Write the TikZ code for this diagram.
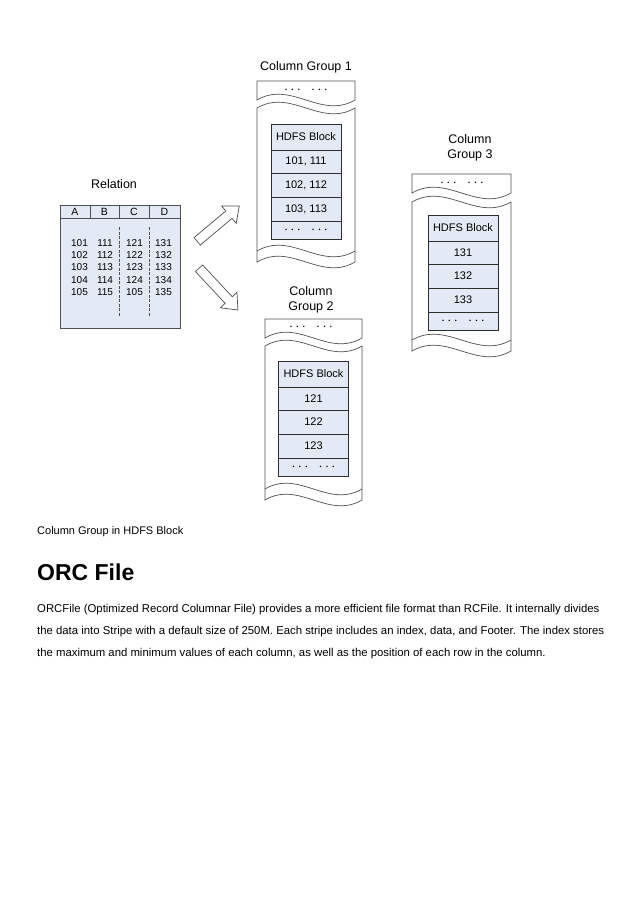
\documentclass[tikz,border=0pt]{standalone}
\usepackage{fontspec}
\setmainfont{Liberation Sans}
\usetikzlibrary{shapes.arrows,positioning}
\definecolor{clrFill}{RGB}{228,234,245}
\definecolor{clrLine}{RGB}{80,80,80}
\definecolor{clrDark}{RGB}{45,45,45}

% torn column-group strip: L, R, top, wave1, wave2, inner wave, bottom wave
\newcommand{\colgroup}[7]{%
  \draw[grpline,fill=white] (#1,#3) -- (#2,#3) -- (#2,#4)
    .. controls ({#1+0.65*(#2-#1)},{#4+20}) and ({#1+0.35*(#2-#1)},{#4-20}) .. (#1,#4) -- cycle;
  \draw[grpline,fill=white] (#1,#5)
    .. controls ({#1+0.35*(#2-#1)},{#5-20}) and ({#1+0.65*(#2-#1)},{#5+20}) .. (#2,#5)
    -- (#2,#7)
    .. controls ({#1+0.65*(#2-#1)},{#7+20}) and ({#1+0.35*(#2-#1)},{#7-20}) .. (#1,#7) -- cycle;
  \draw[grpline] (#1,#6)
    .. controls ({#1+0.35*(#2-#1)},{#6-20}) and ({#1+0.65*(#2-#1)},{#6+20}) .. (#2,#6);
}
\newcommand{\dotsrow}{{\fontsize{14}{14}\selectfont$\cdots\;\;\cdots$}}

\begin{document}
\begin{tikzpicture}[x=1pt,y=-1pt,
  grpline/.style={draw=clrLine,line width=0.7pt},
  blkrow/.style={draw=clrDark,fill=clrFill,line width=0.7pt,minimum width=70pt,
    inner sep=0pt,font=\fontsize{11}{13}\selectfont},
  ttl/.style={align=center,font=\fontsize{12.5}{15}\selectfont},
  numcol/.style={align=center,inner sep=0pt,font=\fontsize{10}{12.2}\selectfont},
  hdcell/.style={draw=clrLine,fill=clrFill,line width=0.7pt,minimum height=13pt,
    inner sep=0pt,font=\fontsize{10.5}{12}\selectfont},
  blockarrow/.style={single arrow,draw=clrLine,fill=white,line width=0.7pt,
    inner sep=4.5pt,single arrow head extend=6.5pt,single arrow tip angle=80}]
  \useasboundingbox (0,0) rectangle (638,903);
  \def\xA{306} \def\xB{313.5} \def\xC{463}
  \def\tA{124} \def\tB{361} \def\tC{215}

  % --- relation ---
  \node[ttl] (relTitle) at (114,184) {Relation};
  \node[draw=clrLine,fill=clrFill,line width=0.7pt,minimum width=120pt,minimum height=123pt,
    inner sep=0pt] (rel) at (120,266.5) {};
  \node[hdcell,minimum width=30pt] (hdA) at (75,211.5) {A};
  \node[hdcell,minimum width=29pt] (hdB) at (104.5,211.5) {B};
  \node[hdcell,minimum width=30pt] (hdC) at (134,211.5) {C};
  \node[hdcell,minimum width=31pt] (hdD) at (164.5,211.5) {D};
  \foreach \x in {119,149}
    \draw[clrLine,line width=0.7pt,dash pattern=on 3pt off 1.5pt] (\x,227) -- (\x,317);
  \node[numcol] (colA) at (79.5,267.5) {101\\102\\103\\104\\105};
  \node[numcol] (colB) at (105,267.5) {111\\112\\113\\114\\115};
  \node[numcol] (colC) at (134.5,267.5) {121\\122\\123\\124\\105};
  \node[numcol] (colD) at (163.5,267.5) {131\\132\\133\\134\\135};

  % --- arrows ---
  \node[blockarrow,rotate=40,minimum height=55pt] (arrUp) at (216,225.5) {};
  \node[blockarrow,rotate=-47,minimum height=57pt] (arrDown) at (216.5,287) {};

  % --- column group 1 ---
  \node[ttl] (cgOneTitle) at (306,67) {Column Group 1};
  \colgroup{257}{355}{81}{100}{108}{251}{262}
  \node (cgOneTop) at (306,90) {\dotsrow};
  \node[blkrow,minimum height=26pt] (cgOneHead) at (\xA,\tA+13) {HDFS Block};
  \node[blkrow,minimum height=23pt] (cgOneA) at (\xA,\tA+37.5) {101, 111};
  \node[blkrow,minimum height=24pt] (cgOneB) at (\xA,\tA+61) {102, 112};
  \node[blkrow,minimum height=24pt] (cgOneC) at (\xA,\tA+85) {103, 113};
  \node[blkrow,minimum height=18pt] (cgOneD) at (\xA,\tA+106) {\dotsrow};

  % --- column group 2 ---
  \node[ttl] (cgTwoTitle) at (311,299.5) {Column\\Group 2};
  \colgroup{265}{362}{319}{338}{346}{489}{500}
  \node (cgTwoTop) at (311,327) {\dotsrow};
  \node[blkrow,minimum height=26pt] (cgTwoHead) at (\xB,\tB+13) {HDFS Block};
  \node[blkrow,minimum height=23pt] (cgTwoA) at (\xB,\tB+37.5) {121};
  \node[blkrow,minimum height=24pt] (cgTwoB) at (\xB,\tB+61) {122};
  \node[blkrow,minimum height=24pt] (cgTwoC) at (\xB,\tB+85) {123};
  \node[blkrow,minimum height=18pt] (cgTwoD) at (\xB,\tB+106) {\dotsrow};

  % --- column group 3 ---
  \node[ttl] (cgThreeTitle) at (470,147.5) {Column\\Group 3};
  \colgroup{412}{511}{174}{193}{202}{340}{351}
  \node (cgThreeTop) at (462,183) {\dotsrow};
  \node[blkrow,minimum height=26pt] (cgThreeHead) at (\xC,\tC+13) {HDFS Block};
  \node[blkrow,minimum height=23pt] (cgThreeA) at (\xC,\tC+37.5) {131};
  \node[blkrow,minimum height=24pt] (cgThreeB) at (\xC,\tC+61) {132};
  \node[blkrow,minimum height=24pt] (cgThreeC) at (\xC,\tC+85) {133};
  \node[blkrow,minimum height=18pt] (cgThreeD) at (\xC,\tC+106) {\dotsrow};

  % --- text below ---
  \node[anchor=base west,inner sep=0pt,font=\fontsize{11}{13}\selectfont] (caption) at (37,534)
    {Column Group in HDFS Block};
  \node[anchor=base west,inner sep=0pt,font=\fontsize{23}{27}\selectfont\bfseries] (heading) at (37,580)
    {ORC File};
  \foreach \y/\ln [count=\i] in {%
    612/{ORCFile (Optimized Record Columnar File) provides a more efficient file format than RCFile. It internally divides},
    634/{the data into Stripe with a default size of 250M. Each stripe includes an index, data, and Footer. The index stores},
    656/{the maximum and minimum values of each column, as well as the position of each row in the column.}}
    \node[anchor=base west,inner sep=0pt,font=\fontsize{11.35}{13}\selectfont] (para\i) at (37,\y) {\ln};
\end{tikzpicture}
\end{document}
